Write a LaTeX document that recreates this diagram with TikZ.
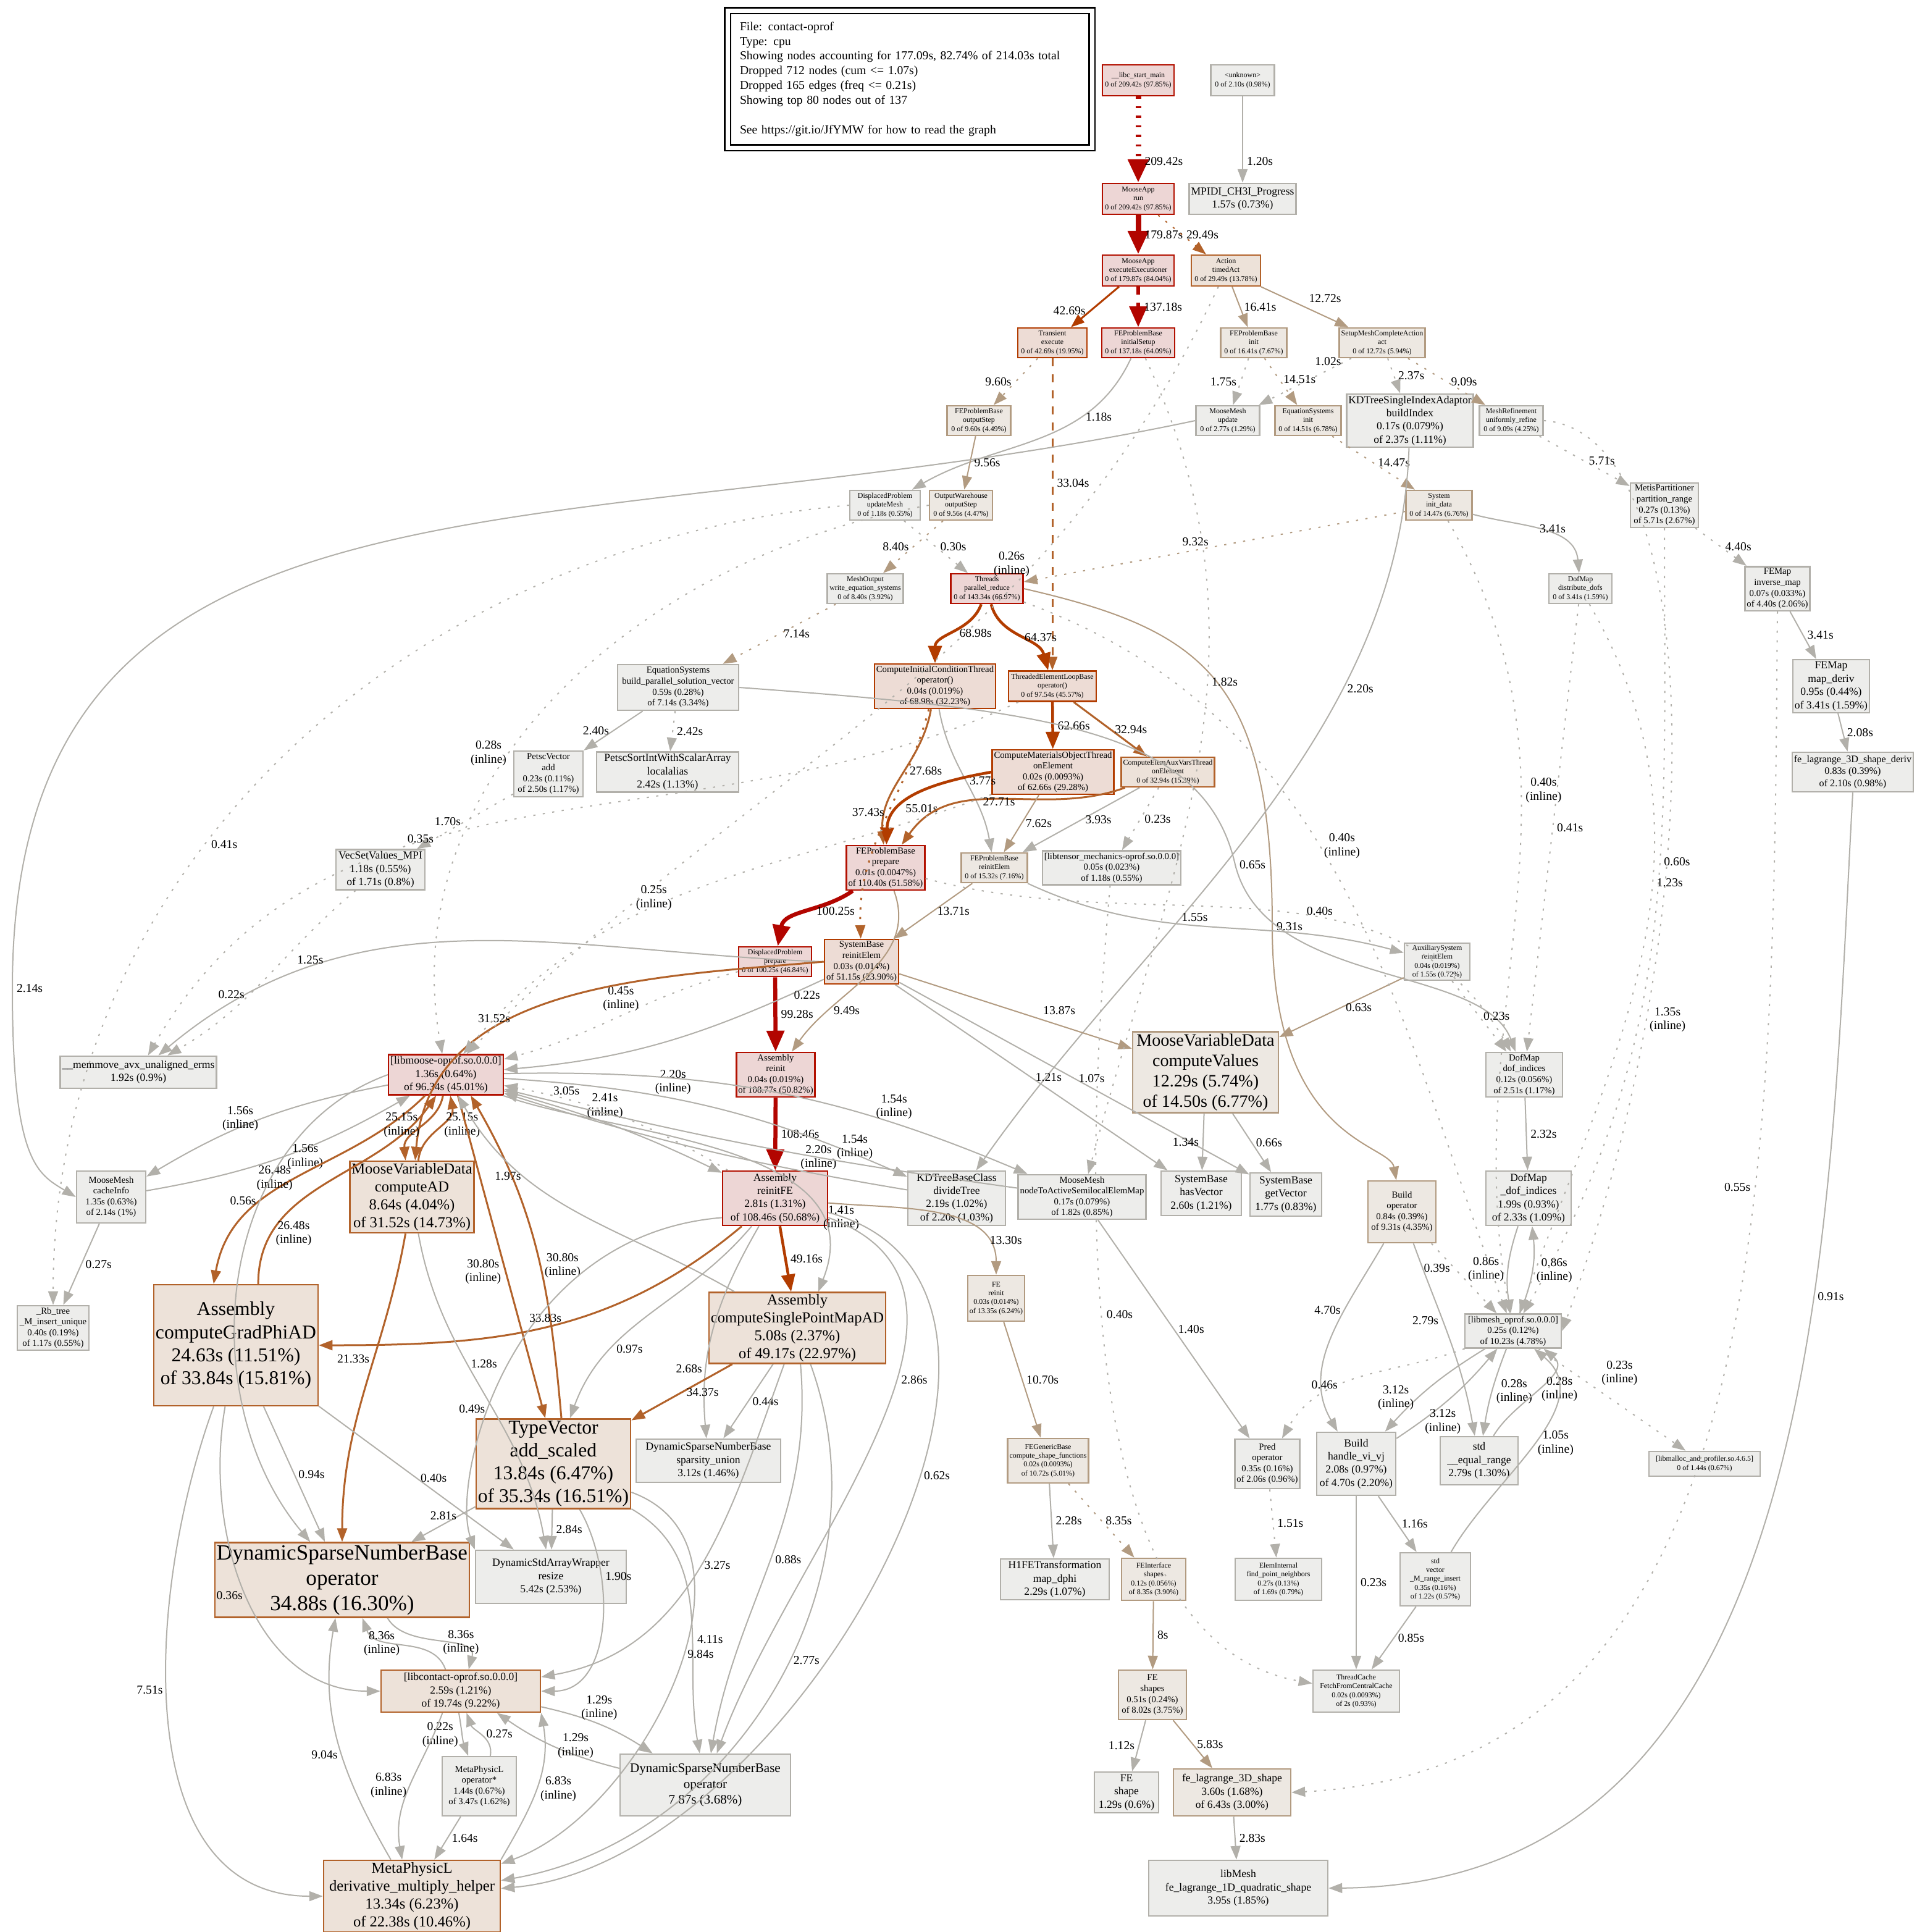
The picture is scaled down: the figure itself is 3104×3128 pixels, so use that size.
\documentclass[tikz,border=0pt]{standalone}
\usepackage{fontspec}
\setmainfont{Liberation Serif}
\usetikzlibrary{arrows.meta}
\definecolor{rf}{HTML}{EDD6D5}\definecolor{rd}{HTML}{B21000}
\definecolor{of}{HTML}{EDDCD5}\definecolor{od}{HTML}{B23C00}
\definecolor{lf}{HTML}{EDE2D9}\definecolor{ld}{HTML}{B2622A}
\definecolor{tf}{HTML}{EDE8E2}\definecolor{td}{HTML}{B29B81}
\definecolor{gf}{HTML}{EDEDEB}\definecolor{gd}{HTML}{B2B0AA}
\definecolor{er}{HTML}{B20500}\definecolor{eo}{HTML}{B23C00}
\definecolor{el}{HTML}{B2622A}\definecolor{et}{HTML}{B29B81}
\definecolor{eg}{HTML}{B2B0AA}
\begin{document}
\begin{tikzpicture}[x=0.1mm,y=-0.1mm,
 nd/.style={draw, rectangle, align=center, inner sep=0.3mm, line width=0.25mm},
 nR/.style={nd, fill=rf, draw=rd}, nO/.style={nd, fill=of, draw=od},
 nL/.style={nd, fill=lf, draw=ld}, nT/.style={nd, fill=tf, draw=td},
 nG/.style={nd, fill=gf, draw=gd},
 f1/.style={font=\fontsize{3.4}{4.1}\selectfont},
 f2/.style={font=\fontsize{4.2}{5.0}\selectfont},
 f3/.style={font=\fontsize{5.0}{6.1}\selectfont},
 f4/.style={font=\fontsize{7}{8.2}\selectfont},
 f5/.style={font=\fontsize{8}{9.4}\selectfont},
 f6/.style={font=\fontsize{9}{10.6}\selectfont},
 f7/.style={font=\fontsize{10}{11.8}\selectfont},
 lbl/.style={font=\fontsize{5.6}{6.4}\selectfont, align=center, inner sep=0.6mm, text=black},
 ee/.style={-{Triangle[length=2.2mm,width=1.6mm]}, line width=0.2mm},
 eG/.style={ee, draw=eg}, eT/.style={ee, draw=et}, eL/.style={ee, draw=el, line width=0.3mm},
 eO/.style={ee, draw=eo, line width=0.45mm, -{Triangle[length=2.8mm,width=2.2mm]}},
 eR/.style={ee, draw=er, line width=0.65mm, -{Triangle[length=3.4mm,width=2.8mm]}},
 eRR/.style={ee, draw=er, line width=0.9mm, -{Triangle[length=3.8mm,width=3.2mm]}},
 dotp/.style={dash pattern=on 0.35mm off 1.2mm},
 dashp/.style={dash pattern=on 1.3mm off 1.3mm}]
\useasboundingbox (0,0) rectangle (3104,3128);
\fill[white] (0,0) rectangle (3104,3128);
% legend
\node[draw, double, double distance=0.7mm, line width=0.25mm, minimum width=59mm, minimum height=22.2mm, align=left, text width=55mm, font=\fontsize{5.6}{6.8}\selectfont, fill=white] (leg) at (1473,128) {File: contact-oprof\\Type: cpu\\Showing nodes accounting for 177.09s, 82.74\% of 214.03s total\\Dropped 712 nodes (cum <= 1.07s)\\Dropped 165 edges (freq <= 0.21s)\\Showing top 80 nodes out of 137\\[6.8pt]See https://git.io/JfYMW for how to read the graph};
% nodes
\node[nR,f1,minimum width=11.6mm,minimum height=5mm] (libc) at (1843,130) {\_\_libc\_start\_main\\0 of 209.42s (97.85\%)};
\node[nG,f1,minimum width=10.3mm,minimum height=5mm] (unk) at (2012,130) {\textless unknown\textgreater\\0 of 2.10s (0.98\%)};
\node[nR,f1,minimum width=11.6mm,minimum height=5mm] (run) at (1843,322) {MooseApp\\run\\0 of 209.42s (97.85\%)};
\node[nG,f3,minimum width=17.3mm,minimum height=5mm] (mpidi) at (2012,322) {MPIDI\_CH3I\_Progress\\1.57s (0.73\%)};
\node[nR,f1,minimum width=11.6mm,minimum height=5mm] (exec) at (1843,438) {MooseApp\\executeExecutioner\\0 of 179.87s (84.04\%)};
\node[nL,f1,minimum width=11.2mm,minimum height=5mm] (act) at (1985,438) {Action\\timedAct\\0 of 29.49s (13.78\%)};
\node[nO,f1,minimum width=11.2mm,minimum height=4.8mm] (trans) at (1704,555) {Transient\\execute\\0 of 42.69s (19.95\%)};
\node[nR,f1,minimum width=11.8mm,minimum height=4.8mm] (init) at (1843,555) {FEProblemBase\\initialSetup\\0 of 137.18s (64.09\%)};
\node[nT,f1,minimum width=10.7mm,minimum height=4.8mm] (fepi) at (2030,555) {FEProblemBase\\init\\0 of 16.41s (7.67\%)};
\node[nT,f1,minimum width=13.9mm,minimum height=4.8mm] (setup) at (2238,555) {SetupMeshCompleteAction\\act\\0 of 12.72s (5.94\%)};
\node[nT,f1,minimum width=10.3mm,minimum height=4.8mm] (outs) at (1585,681) {FEProblemBase\\outputStep\\0 of 9.60s (4.49\%)};
\node[nG,f1,minimum width=10.3mm,minimum height=4.8mm] (mupd) at (1988,681) {MooseMesh\\update\\0 of 2.77s (1.29\%)};
\node[nT,f1,minimum width=10.7mm,minimum height=4.8mm] (esi) at (2118,681) {EquationSystems\\init\\0 of 14.51s (6.78\%)};
\node[nG,f3,minimum width=17.6mm,minimum height=7mm] (kdb) at (2283,681) {KDTreeSingleIndexAdaptor\\buildIndex\\0.17s (0.079\%)\\of 2.37s (1.11\%)};
\node[nG,f1,minimum width=10.3mm,minimum height=4.8mm] (mref) at (2447,681) {MeshRefinement\\uniformly\_refine\\0 of 9.09s (4.25\%)};
\node[nG,f1,minimum width=11.4mm,minimum height=4.8mm] (dpum) at (1433,818) {DisplacedProblem\\updateMesh\\0 of 1.18s (0.55\%)};
\node[nT,f1,minimum width=10.2mm,minimum height=4.8mm] (ow) at (1556,818) {OutputWarehouse\\outputStep\\0 of 9.56s (4.47\%)};
\node[nT,f1,minimum width=10.7mm,minimum height=4.8mm] (sid) at (2330,818) {System\\init\_data\\0 of 14.47s (6.76\%)};
\node[nG,f2,minimum width=11mm,minimum height=6.9mm] (metis) at (2695,818) {MetisPartitioner\\partition\_range\\0.27s (0.13\%)\\of 5.71s (2.67\%)};
\node[nG,f1,minimum width=12.3mm,minimum height=4.8mm] (mo) at (1401,953) {MeshOutput\\write\_equation\_systems\\0 of 8.40s (3.92\%)};
\node[nR,f1,minimum width=11.7mm,minimum height=4.8mm] (thr) at (1598,953) {Threads\\parallel\_reduce\\0 of 143.34s (66.97\%)};
\node[nG,f1,minimum width=10.2mm,minimum height=4.8mm] (ddofs) at (2559,953) {DofMap\\distribute\_dofs\\0 of 3.41s (1.59\%)};
\node[nG,f2,minimum width=10.4mm,minimum height=6.4mm] (invm) at (2878,953) {FEMap\\inverse\_map\\0.07s (0.033\%)\\of 4.40s (2.06\%)};
\node[nO,f2,minimum width=17mm,minimum height=6.4mm] (cic) at (1514,1111) {ComputeInitialConditionThread\\operator()\\0.04s (0.019\%)\\of 68.98s (32.23\%)};
\node[nO,f1,minimum width=14.2mm,minimum height=4.9mm] (telb) at (1704,1111) {ThreadedElementLoopBase\\operator()\\0 of 97.54s (45.57\%)};
\node[nG,f2,minimum width=19.6mm,minimum height=7.4mm] (eqb) at (1098,1113) {EquationSystems\\build\_parallel\_solution\_vector\\0.59s (0.28\%)\\of 7.14s (3.34\%)};
\node[nG,f3,minimum width=12mm,minimum height=7.5mm] (mapd) at (2965,1111) {FEMap\\map\_deriv\\0.95s (0.44\%)\\of 3.41s (1.59\%)};
\node[nO,f2,minimum width=17.3mm,minimum height=6.3mm] (cmo) at (1705,1250) {ComputeMaterialsObjectThread\\onElement\\0.02s (0.0093\%)\\of 62.66s (29.28\%)};
\node[nL,f1,minimum width=15mm,minimum height=4.8mm] (ceav) at (1891,1250) {ComputeElemAuxVarsThread\\onElement\\0 of 32.94s (15.39\%)};
\node[nG,f2,minimum width=11.2mm,minimum height=7.4mm] (pva) at (888,1253) {PetscVector\\add\\0.23s (0.11\%)\\of 2.50s (1.17\%)};
\node[nG,f3,minimum width=23mm,minimum height=6.4mm] (psort) at (1081,1250) {PetscSortIntWithScalarArray\\localalias\\2.42s (1.13\%)};
\node[nG,minimum width=19mm,minimum height=6.4mm,font=\fontsize{4.6}{5.6}\selectfont] (fl3d) at (3000,1250) {fe\_lagrange\_3D\_shape\_deriv\\0.83s (0.39\%)\\of 2.10s (0.98\%)};
\node[nR,f2,minimum width=12.1mm,minimum height=6.4mm] (prep) at (1434,1405) {FEProblemBase\\prepare\\0.01s (0.0047\%)\\of 110.40s (51.58\%)};
\node[nT,f1,minimum width=10.7mm,minimum height=4.8mm] (fre) at (1610,1405) {FEProblemBase\\reinitElem\\0 of 15.32s (7.16\%)};
\node[nG,f2,minimum width=19.7mm,minimum height=5.1mm] (libt) at (1800,1405) {[libtensor\_mechanics-oprof.so.0.0.0]\\0.05s (0.023\%)\\of 1.18s (0.55\%)};
\node[nG,f3,minimum width=14.4mm,minimum height=6.4mm] (vsv) at (616,1408) {VecSetValues\_MPI\\1.18s (0.55\%)\\of 1.71s (0.8\%)};
\node[nR,f1,minimum width=11.8mm,minimum height=4.8mm] (dpp) at (1255,1557) {DisplacedProblem\\prepare\\0 of 100.25s (46.84\%)};
\node[nO,f2,minimum width=11.5mm,minimum height=6.4mm] (sbr) at (1395,1557) {SystemBase\\reinitElem\\0.03s (0.014\%)\\of 51.15s (23.90\%)};
\node[nG,f1,minimum width=10.6mm,minimum height=6mm] (aux) at (2327,1557) {AuxiliarySystem\\reinitElem\\0.04s (0.019\%)\\of 1.55s (0.72\%)};
\node[nG,f3,minimum width=24mm,minimum height=5.2mm] (memm) at (224,1736) {\_\_memmove\_avx\_unaligned\_erms\\1.92s (0.9\%)};
\node[nR,f3,minimum width=18mm,minimum height=6.2mm] (lmoo) at (722,1740) {[libmoose-oprof.so.0.0.0]\\1.36s (0.64\%)\\of 96.34s (45.01\%)};
\node[nR,f2,minimum width=12mm,minimum height=7mm] (arei) at (1256,1740) {Assembly\\reinit\\0.04s (0.019\%)\\of 108.77s (50.82\%)};
\node[nT,f5,minimum width=23.6mm,minimum height=12mm] (mvdc) at (1952,1736) {MooseVariableData\\computeValues\\12.29s (5.74\%)\\of 14.50s (6.77\%)};
\node[nG,f2,minimum width=12.4mm,minimum height=7.2mm] (dofi) at (2468,1740) {DofMap\\dof\_indices\\0.12s (0.056\%)\\of 2.51s (1.17\%)};
\node[nG,f2,minimum width=11.2mm,minimum height=8.4mm] (cache) at (180,1938) {MooseMesh\\cacheInfo\\1.35s (0.63\%)\\of 2.14s (1\%)};
\node[nL,f4,minimum width=18.6mm,minimum height=11.6mm] (mvad) at (667,1938) {MooseVariableData\\computeAD\\8.64s (4.04\%)\\of 31.52s (14.73\%)};
\node[nR,f3,minimum width=17mm,minimum height=8.8mm] (rfe) at (1255,1940) {Assembly\\reinitFE\\2.81s (1.31\%)\\of 108.46s (50.68\%)};
\node[nG,f3,minimum width=15.8mm,minimum height=8.8mm] (kdt) at (1549,1940) {KDTreeBaseClass\\divideTree\\2.19s (1.02\%)\\of 2.20s (1.03\%)};
\node[nG,f2,minimum width=20mm,minimum height=6.6mm] (n2a) at (1752,1938) {MooseMesh\\nodeToActiveSemilocalElemMap\\0.17s (0.079\%)\\of 1.82s (0.85\%)};
\node[nG,f3,minimum width=13mm,minimum height=7.2mm] (hasv) at (1945,1932) {SystemBase\\hasVector\\2.60s (1.21\%)};
\node[nG,f3,minimum width=11.6mm,minimum height=7mm] (getv) at (2082,1934) {SystemBase\\getVector\\1.77s (0.83\%)};
\node[nT,f2,minimum width=11mm,minimum height=10mm] (bop) at (2270,1962) {Build\\operator\\0.84s (0.39\%)\\of 9.31s (4.35\%)};
\node[nG,f3,minimum width=13.8mm,minimum height=8.8mm] (ddi) at (2475,1940) {DofMap\\\_dof\_indices\\1.99s (0.93\%)\\of 2.33s (1.09\%)};
\node[nL,f6,minimum width=26mm,minimum height=19.6mm] (cgp) at (382,2178) {Assembly\\computeGradPhiAD\\24.63s (11.51\%)\\of 33.84s (15.81\%)};
\node[nG,f2,minimum width=11.6mm,minimum height=6.8mm] (rbt) at (86,2150) {\_Rb\_tree\\\_M\_insert\_unique\\0.40s (0.19\%)\\of 1.17s (0.55\%)};
\node[nL,f4,minimum width=25mm,minimum height=10mm] (cspm) at (1291,2150) {Assembly\\computeSinglePointMapAD\\5.08s (2.37\%)\\of 49.17s (22.97\%)};
\node[nT,f1,minimum width=6mm,minimum height=7.4mm] (fer) at (1613,2102) {FE\\reinit\\0.03s (0.014\%)\\of 13.35s (6.24\%)};
\node[nG,f2,minimum width=15.6mm,minimum height=5.2mm] (lmesh) at (2450,2155) {[libmesh\_oprof.so.0.0.0]\\0.25s (0.12\%)\\of 10.23s (4.78\%)};
\node[nL,f6,minimum width=22mm,minimum height=13.4mm] (tv) at (896,2370) {TypeVector\\add\_scaled\\13.84s (6.47\%)\\of 35.34s (16.51\%)};
\node[nG,f3,minimum width=23.4mm,minimum height=7mm] (spu) at (1147,2365) {DynamicSparseNumberBase\\sparsity\_union\\3.12s (1.46\%)};
\node[nT,f1,minimum width=13mm,minimum height=7.2mm] (fgb) at (1697,2365) {FEGenericBase\\compute\_shape\_functions\\0.02s (0.0093\%)\\of 10.72s (5.01\%)};
\node[nG,f2,minimum width=10.4mm,minimum height=8mm] (pred) at (2052,2370) {Pred\\operator\\0.35s (0.16\%)\\of 2.06s (0.96\%)};
\node[nG,f3,minimum width=12.8mm,minimum height=10.2mm] (hvv) at (2196,2370) {Build\\handle\_vi\_vj\\2.08s (0.97\%)\\of 4.70s (2.20\%)};
\node[nG,f3,minimum width=12.6mm,minimum height=7.8mm] (eqr) at (2395,2365) {std\\\_\_equal\_range\\2.79s (1.30\%)};
\node[nG,f1,minimum width=18mm,minimum height=4mm] (malloc) at (2760,2370) {[libmalloc\_and\_profiler.so.4.6.5]\\0 of 1.44s (0.67\%)};
\node[nL,f7,minimum width=38.8mm,minimum height=11.6mm] (dsnb) at (554,2558) {DynamicSparseNumberBase\\operator\\34.88s (16.30\%)};
\node[nG,f3,minimum width=24.4mm,minimum height=8.6mm] (dsaw) at (892,2553) {DynamicStdArrayWrapper\\resize\\5.42s (2.53\%)};
\node[nG,f3,minimum width=17.6mm,minimum height=6.6mm] (h1) at (1708,2557) {H1FETransformation\\map\_dphi\\2.29s (1.07\%)};
\node[nT,f1,minimum width=10.4mm,minimum height=6.8mm] (fis) at (1868,2557) {FEInterface\\shapes\\0.12s (0.056\%)\\of 8.35s (3.90\%)};
\node[nG,f1,minimum width=14mm,minimum height=6.8mm] (ein) at (2070,2557) {ElemInternal\\find\_point\_neighbors\\0.27s (0.13\%)\\of 1.69s (0.79\%)};
\node[nG,f1,minimum width=11.4mm,minimum height=8.6mm] (vri) at (2324,2557) {std\\vector\\\_M\_range\_insert\\0.35s (0.16\%)\\of 1.22s (0.57\%)};
\node[nL,f3,minimum width=25.8mm,minimum height=6.8mm] (lcon) at (746,2738) {[libcontact-oprof.so.0.0.0]\\2.59s (1.21\%)\\of 19.74s (9.22\%)};
\node[nT,f2,minimum width=11mm,minimum height=8mm] (fes) at (1866,2744) {FE\\shapes\\0.51s (0.24\%)\\of 8.02s (3.75\%)};
\node[nG,f1,minimum width=14mm,minimum height=6.8mm] (tcf) at (2196,2738) {ThreadCache\\FetchFromCentralCache\\0.02s (0.0093\%)\\of 2s (0.93\%)};
\node[nG,f2,minimum width=12mm,minimum height=9.6mm] (mop) at (776,2892) {MetaPhysicL\\operator*\\1.44s (0.67\%)\\of 3.47s (1.62\%)};
\node[nG,minimum width=27.6mm,minimum height=10mm,font=\fontsize{6}{7.2}\selectfont] (dsnb2) at (1142,2890) {DynamicSparseNumberBase\\operator\\7.87s (3.68\%)};
\node[nG,f3,minimum width=10.4mm,minimum height=6.6mm] (fesh) at (1824,2902) {FE\\shape\\1.29s (0.6\%)};
\node[nT,f3,minimum width=19mm,minimum height=7.6mm] (fl3) at (1995,2902) {fe\_lagrange\_3D\_shape\\3.60s (1.68\%)\\of 6.43s (3.00\%)};
\node[nL,f4,minimum width=28.6mm,minimum height=11.6mm] (dmh) at (667,3070) {MetaPhysicL\\derivative\_multiply\_helper\\13.34s (6.23\%)\\of 22.38s (10.46\%)};
\node[nG,f3,minimum width=29mm,minimum height=9mm] (l1d) at (2005,3057) {libMesh\\fe\_lagrange\_1D\_quadratic\_shape\\3.95s (1.85\%)};
% edges
\draw[eRR,dotp] (libc) -- node[lbl,right,pos=.75]{209.42s} (run);
\draw[eG] (unk) -- node[lbl,right,pos=.75]{1.20s} (mpidi);
\draw[eRR] (run) -- node[lbl,right]{179.87s} (exec);
\draw[eT,draw=el,dotp] (run) -- node[lbl,right]{29.49s} (act);
\draw[eL,draw=eo] (exec) -- node[lbl,left,pos=.6]{42.69s} (trans);
\draw[eR,dashp] (exec) -- node[lbl,right]{137.18s} (init);
\draw[eT] (act) -- node[lbl,right]{16.41s} (fepi);
\draw[eT] (act) -- node[lbl,above right]{12.72s} (setup);
\draw[eT,dotp] (trans) -- node[lbl,left]{9.60s} (outs);
\draw[eL,dashp] (trans) -- node[lbl,right,pos=.4]{33.04s} (telb);
\draw[eG] (init) to[out=245,in=30] node[lbl,right,pos=.3]{1.18s} (dpum);
\draw[eT] (outs) -- node[lbl,right]{9.56s} (ow);
\draw[eG,dotp] (fepi) -- node[lbl,left]{1.75s} (mupd);
\draw[eT,dotp] (fepi) -- node[lbl,right,pos=.45]{14.51s} (esi);
\draw[eG,dotp] (setup) -- node[lbl,above,pos=.25]{1.02s} (mupd);
\draw[eG,dotp] (setup) -- node[lbl,right]{2.37s} (kdb);
\draw[eT,dotp] (setup) -- node[lbl,right]{9.09s} (mref);
\draw[eT,dotp] (esi) -- node[lbl,right]{14.47s} (sid);
\draw[eG,dotp] (mref) -- node[lbl,right]{5.71s} (metis);
\draw[eT,dotp] (ow) -- node[lbl,left]{8.40s} (mo);
\draw[eG,dotp] (dpum) -- node[lbl,right]{0.30s} (thr);
\draw[eT,dotp] (sid) -- node[lbl,above,pos=.55]{9.32s} (thr);
\draw[eG] (sid) to[out=-15,in=95] node[lbl,right,pos=.45]{3.41s} (ddofs);
\draw[eG,dotp] (metis) -- node[lbl,right]{4.40s} (invm);
\draw[eG] (invm) -- node[lbl,right]{3.41s} (mapd);
\draw[eG] (mapd) -- node[lbl,right]{2.08s} (fl3d);
\draw[eT,dotp] (mo) -- node[lbl,right]{7.14s} (eqb);
\draw[eO] (thr) to[out=250,in=90] node[lbl,right]{68.98s} (cic);
\draw[eO] (thr) to[out=285,in=105] node[lbl,right]{64.37s} (telb);
\draw[eT] (thr.east) .. controls (1950,1020) and (2060,1100) .. (2060,1500) .. controls (2060,1850) and (2250,1850) .. node[lbl,right,pos=0]{9.31s} (bop);
\draw[eG] (kdb) to[out=-92,in=55,looseness=0.9] node[lbl,right,pos=.3]{2.20s} (kdt);
\draw[eO] (telb) -- node[lbl,right]{62.66s} (cmo);
\draw[eL] (telb) -- node[lbl,right]{32.94s} (ceav);
\draw[eG] (eqb) -- node[lbl,left]{2.40s} (pva);
\draw[eG,dotp] (eqb) -- node[lbl,right]{2.42s} (psort);
\draw[eG] (eqb.east) .. controls (1700,1150) and (1950,1180) .. (2000,1400) .. controls (2050,1600) and (2400,1560) .. node[lbl,right,pos=0]{0.65s} (dofi);
\draw[eL] (cic) to[out=-100,in=95] node[lbl,right,pos=.45]{27.68s} (prep);
\draw[eG] (cic) to[out=-80,in=100] node[lbl,right,pos=.5]{3.77s} (fre);
\draw[eL,dotp] (cic) to[out=-105,in=92] node[lbl,left,pos=.45]{37.43s} (sbr);
\draw[eO] (cmo.west) to[out=190,in=88] node[lbl,right,pos=.7]{55.01s} (prep);
\draw[eL] (ceav) to[out=200,in=55] node[lbl,right,pos=.6]{27.71s} (prep);
\draw[eT] (cmo) -- node[lbl,right]{7.62s} (fre);
\draw[eG] (ceav) -- node[lbl,right]{3.93s} (fre);
\draw[eG,dotp] (ceav) -- node[lbl,right]{0.23s} (libt);
\draw[eG,dotp] (pva) -- node[lbl,left]{1.70s} (vsv);
\draw[eT] (prep) to[out=-70,in=55] node[lbl,right,pos=.75]{9.49s} (arei);
\draw[eT] (fre) -- node[lbl,right]{13.71s} (sbr);
\draw[eG] (fre) to[out=-25,in=165] node[lbl,above,pos=.45]{1.55s} (aux);
\draw[eR] (prep) to[out=215,in=80] node[lbl,right,pos=.45]{100.25s} (dpp);
\draw[eR] (dpp) -- node[lbl,right]{99.28s} (arei);
\draw[eT] (aux) -- node[lbl,right]{0.63s} (mvdc);
\draw[eG,dotp] (aux) -- node[lbl,right]{0.23s} (dofi);
\draw[eT] (sbr) -- node[lbl,above right,pos=.6]{13.87s} (mvdc);
\draw[eG] (sbr.west) to[out=178,in=40] node[lbl,above,pos=.75]{1.25s} (memm);
\draw[eG,dotp] (dpp) to[out=195,in=15] node[lbl,above,pos=.5]{0.45s\\(inline)} (lmoo);
\draw[eG] (sbr) to[out=205,in=5] node[lbl,right,pos=.1]{0.22s} (lmoo);
\draw[eL] (sbr.west) to[out=185,in=85] node[lbl,left,pos=.6]{31.52s} (mvad);
\draw[eR] (arei) -- node[lbl,right]{108.46s} (rfe);
\draw[eG] (sbr) -- node[lbl,right,pos=.5]{1.21s} (hasv);
\draw[eG] (sbr) -- node[lbl,right,pos=.5]{1.07s} (getv);
\draw[eG] (mvdc) -- node[lbl,left]{1.34s} (hasv);
\draw[eG] (mvdc) -- node[lbl,right]{0.66s} (getv);
\draw[eG,dotp] (bop) -- node[lbl,left,pos=.35]{0.39s} (lmesh);
\draw[eG] (dofi) -- node[lbl,right]{2.32s} (ddi);
\draw[eG] (ddi) to[bend right=14] node[lbl,left]{0.86s\\(inline)} (lmesh);
\draw[eG] (lmesh) to[bend right=14] node[lbl,right]{0.86s\\(inline)} (ddi);
\draw[eG] (lmoo) to[bend right=10] node[lbl,left]{1.56s\\(inline)} (cache);
\draw[eG] (cache) to[bend right=10] node[lbl,right]{1.56s\\(inline)} (lmoo);
\draw[eL] (lmoo.225) to[out=225,in=80] node[lbl,left,pos=.5]{26.48s\\(inline)} (cgp.110);
\draw[eL] (cgp.70) to[out=90,in=235] node[lbl,right,pos=.2]{26.48s\\(inline)} (lmoo.245);
\draw[eL] (lmoo.262) to[out=260,in=95] node[lbl,left,pos=.45]{25.15s\\(inline)} (mvad.100);
\draw[eL] (mvad.80) to[out=85,in=-80] node[lbl,right,pos=.55]{25.15s\\(inline)} (lmoo.282);
\draw[eL] (lmoo.-60) to[out=-75,in=105] node[lbl,left,pos=.55]{30.80s\\(inline)} (tv.100);
\draw[eL] (tv.80) to[out=95,in=-60] node[lbl,right,pos=.45]{30.80s\\(inline)} (lmoo.-40);
\draw[eG,dotp] (rfe) to[bend right=10] node[lbl,above,pos=.75]{3.05s} (lmoo);
\draw[eG] (lmoo) to[bend left=5] node[lbl,above,pos=.45]{2.41s\\(inline)} (rfe);
\draw[eG] (lmoo) to[bend left=10] node[lbl,above,pos=.4]{2.20s\\(inline)} (kdt);
\draw[eG] (kdt) to[bend left=4] node[lbl,above,pos=.2]{2.20s\\(inline)} (lmoo);
\draw[eG] (lmoo) to[bend left=12] node[lbl,above,pos=.75]{1.54s\\(inline)} (n2a);
\draw[eG] (n2a) to[bend left=3] node[lbl,above,pos=.3]{1.54s\\(inline)} (lmoo);
\draw[eG] (cspm) to[out=150,in=-60] node[lbl,left,pos=.7]{1.97s} (lmoo);
\draw[eG] (lmoo.-20) .. controls (1000,1840) and (1420,1850) .. node[lbl,right,pos=.8]{1.41s\\(inline)} (cspm.60);
\draw[eG] (lmoo.west) to[out=200,in=130] node[lbl,left,pos=.35]{0.56s} (dsnb);
\draw[eG] (cache) -- node[lbl,right]{0.27s} (rbt);
\draw[eL] (rfe) to[out=220,in=0] node[lbl,above,pos=.5]{33.83s} (cgp);
\draw[eO] (rfe) -- node[lbl,right]{49.16s} (cspm);
\draw[eT] (rfe) to[out=-5,in=90] node[lbl,right,pos=.8]{13.30s} (fer);
\draw[eG] (rfe) to[out=240,in=95] node[lbl,left,pos=.7]{2.68s} (spu);
\draw[eG] (rfe) to[out=230,in=70] node[lbl,right,pos=.7]{0.97s} (tv);
\draw[eG] (rfe.200) .. controls (820,2000) and (730,2400) .. node[lbl,left,pos=.6]{0.49s} (dsaw.north west);
\draw[eL] (cspm) -- node[lbl,right]{34.37s} (tv);
\draw[eG] (cspm) -- node[lbl,right]{0.44s} (spu);
\draw[eT] (fer) -- node[lbl,right]{10.70s} (fgb);
\draw[eL] (mvad) to[out=-100,in=90] node[lbl,left,pos=.4]{21.33s} (dsnb);
\draw[eG] (mvad) to[out=-80,in=100] node[lbl,right,pos=.4]{1.28s} (dsaw);
\draw[eG] (cgp) -- node[lbl,right]{0.94s} (dsnb);
\draw[eG] (cgp) -- node[lbl,right]{0.40s} (dsaw);
\draw[eG] (cgp) to[out=-100,in=180] node[lbl,left,pos=.5]{0.36s} (lcon);
\draw[eG] (cgp) to[out=-110,in=180] node[lbl,left,pos=.45]{7.51s} (dmh);
\draw[eG] (tv) -- node[lbl,above,pos=.5]{2.81s} (dsnb);
\draw[eG] (tv) -- node[lbl,right]{2.84s} (dsaw);
\draw[eG] (tv) to[out=-60,in=0] node[lbl,right,pos=.3]{1.90s} (lcon);
\draw[eG] (tv) to[out=-30,in=100] node[lbl,right,pos=.6]{4.11s} (dsnb2);
\draw[eG] (tv) to[out=-20,in=20] node[lbl,right,pos=.45]{9.84s} (dmh);
\draw[eG] (cspm) to[out=-110,in=10] node[lbl,right,pos=.5]{3.27s} (lcon);
\draw[eG] (cspm) to[out=-85,in=80] node[lbl,right,pos=.5]{0.88s} (dsnb2);
\draw[eG] (cspm) to[out=-70,in=10] node[lbl,right,pos=.45]{2.77s} (dmh);
\draw[eG] (rfe) to[out=-20,in=70] node[lbl,right,pos=.4]{2.86s} (dsnb2);
\draw[eG] (rfe) to[out=-15,in=5] node[lbl,right,pos=.4]{0.62s} (dmh);
\draw[eG] (lcon.125) to[out=110,in=-70] node[lbl,left,pos=.5]{8.36s\\(inline)} (dsnb.-62);
\draw[eG] (dsnb.-40) to[out=-60,in=75] node[lbl,right,pos=.5]{8.36s\\(inline)} (lcon.70);
\draw[eG] (lcon.-95) to[out=-80,in=110] node[lbl,left,pos=.5]{0.22s\\(inline)} (mop.110);
\draw[eG] (mop.70) to[out=80,in=-70] node[lbl,right,pos=.5]{0.27s} (lcon.-75);
\draw[eG] (lcon) to[bend left=10] node[lbl,above]{1.29s\\(inline)} (dsnb2);
\draw[eG] (dsnb2) to[bend left=10] node[lbl,above left,pos=.15]{1.29s\\(inline)} (lcon);
\draw[eG] (lcon.-130) to[out=-110,in=100] node[lbl,left,pos=.5]{6.83s\\(inline)} (dmh.105);
\draw[eG] (dmh.north east) to[out=60,in=-80] node[lbl,right,pos=.5]{6.83s\\(inline)} (lcon.south east);
\draw[eG] (dmh) to[out=120,in=-100] node[lbl,left,pos=.45]{9.04s} (dsnb);
\draw[eG] (mop) -- node[lbl,right]{1.64s} (dmh);
\draw[eG] (bop) to[out=-120,in=120] node[lbl,left,pos=.35]{4.70s} (hvv);
\draw[eG] (bop) to[out=-70,in=100] node[lbl,left,pos=.4]{2.79s} (eqr);
\draw[eG,dotp] (lmesh) to[out=200,in=60] node[lbl,left,pos=.6]{0.46s} (pred);
\draw[eG] (n2a) -- node[lbl,right]{1.40s} (pred);
\draw[eG] (lmesh) to[bend right=8] node[lbl,left,pos=.65]{3.12s\\(inline)} (hvv);
\draw[eG] (hvv) to[bend right=8] node[lbl,right,pos=.2]{3.12s\\(inline)} (lmesh);
\draw[eG] (lmesh) to[bend right=6] node[lbl,right,pos=.5]{0.28s\\(inline)} (eqr);
\draw[eG] (eqr.60) to[out=60,in=-40] node[lbl,right,pos=.5]{0.28s\\(inline)} (lmesh.-30);
\draw[eG] (vri) to[out=60,in=-40] node[lbl,right,pos=.5]{1.05s\\(inline)} (lmesh);
\draw[eG,dotp] (lmesh) -- node[lbl,above right,pos=.4]{0.23s\\(inline)} (malloc);
\draw[eG,dotp] (libt) to[out=-95,in=170,looseness=0.8] node[lbl,right,pos=.45]{0.40s} (tcf);
\draw[eG] (hvv) -- node[lbl,right]{1.16s} (vri);
\draw[eG] (hvv) -- node[lbl,right]{0.23s} (tcf);
\draw[eG] (vri) -- node[lbl,right]{0.85s} (tcf);
\draw[eG,dotp] (pred) -- node[lbl,right]{1.51s} (ein);
\draw[eG] (fgb) -- node[lbl,right]{2.28s} (h1);
\draw[eT,dotp] (fgb) -- node[lbl,right]{8.35s} (fis);
\draw[eT] (fis) -- node[lbl,right]{8s} (fes);
\draw[eG] (fes) -- node[lbl,left]{1.12s} (fesh);
\draw[eT] (fes) -- node[lbl,right]{5.83s} (fl3);
\draw[eG] (fl3) -- node[lbl,right]{2.83s} (l1d);
\draw[eG,dotp] (invm.south) .. controls (2870,1900) and (2880,2860) .. node[lbl,left,pos=.35]{0.55s} (fl3.east);
\draw[eG] (fl3d.south) .. controls (2960,2000) and (2960,3050) .. node[lbl,right,pos=.35]{0.91s} (l1d.east);
\draw[eG,dotp] (mref.east) .. controls (2770,700) and (2770,1500) .. node[lbl,right,pos=.75]{1.35s\\(inline)} (lmesh.east);
\draw[eG,dotp] (metis) to[out=-90,in=60] node[lbl,right,pos=.4]{0.60s} (lmesh);
\draw[eG,dotp] (ddofs) to[out=-60,in=70] node[lbl,right,pos=.4]{1.23s} (lmesh);
\draw[eG,dotp] (ddofs) -- node[lbl,right,pos=.5]{0.41s} (dofi);
\draw[eG,dotp] (sid) to[out=-60,in=100] node[lbl,right,pos=.35]{0.40s\\(inline)} (lmesh);
\draw[eG,dotp] (prep) to[out=-15,in=120] node[lbl,above,pos=.6]{0.40s} (dofi);
\draw[eG,dotp] (thr) to[out=-20,in=110] node[lbl,right,pos=.45]{0.40s\\(inline)} (lmesh);
\draw[eG,dotp] (init) to[out=-65,in=75] node[lbl,right,pos=.4]{1.82s} (n2a);
\draw[eG,dotp] (act) to[out=245,in=45] node[lbl,left,pos=.3]{0.26s\\(inline)} (lmoo);
\draw[eG,dotp] (ow.west) to[out=190,in=100] node[lbl,left,pos=.6]{0.28s\\(inline)} (lmoo);
\draw[eG,dotp] (dpum.west) to[out=185,in=90] node[lbl,right,pos=.6]{0.41s} (rbt);
\draw[eG,dotp] (telb) to[out=205,in=60] node[lbl,left,pos=.6]{0.35s} (memm);
\draw[eG,dotp] (cmo) to[out=200,in=50] node[lbl,left,pos=.55]{0.25s\\(inline)} (lmoo);
\draw[eG,dotp] (vsv) to[out=220,in=30] node[lbl,left,pos=.6]{0.22s} (memm);
\draw[eG] (mupd.west) .. controls (900,900) and (20,700) .. (20,1600) .. controls (20,1880) and (60,1900) .. node[lbl,right,pos=0]{2.14s} (cache.west);
\end{tikzpicture}
\end{document}
